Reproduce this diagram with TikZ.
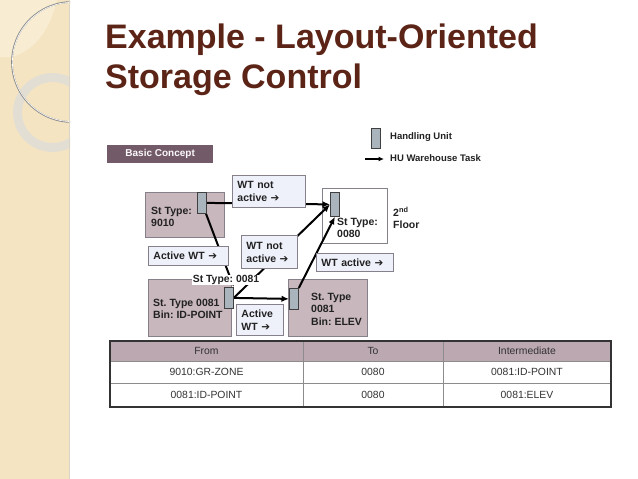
\documentclass[tikz,border=0pt]{standalone}
\usepackage{fontspec}
\setmainfont{Liberation Sans}
\newfontfamily\dejavu{DejaVu Sans}
\usetikzlibrary{arrows.meta}
\frenchspacing
\pgfdeclarelayer{back}
\pgfdeclarelayer{bg}
\pgfdeclarelayer{lines}
\pgfsetlayers{back,bg,lines,main}
\definecolor{titlec}{HTML}{5C2416}
\definecolor{stripc}{HTML}{F4E4C1}
\definecolor{patchc}{HTML}{F8ECD2}
\definecolor{ringc}{HTML}{E2DED6}
\definecolor{mauve}{HTML}{C8B7BC}
\definecolor{mauvedark}{HTML}{735A69}
\definecolor{headc}{HTML}{BBA8B1}
\definecolor{lblfill}{HTML}{EEF0FA}
\definecolor{edgec}{HTML}{85808A}
\definecolor{huc}{HTML}{A9B4BC}
\definecolor{txtc}{HTML}{222222}
\newcommand{\arr}{{\dejavu\mdseries ➔}}
\begin{document}
\begin{tikzpicture}[x=1pt,y=-1pt,
  mbox/.style={draw=edgec, fill=mauve, line width=0.9pt, inner sep=0},
  wbox/.style={draw=edgec, fill=white, line width=0.9pt, inner sep=0},
  lbl/.style={draw=edgec, fill=lblfill, line width=0.9pt, inner xsep=5pt, inner ysep=2pt,
    align=left, text=txtc, font=\bfseries\fontsize{10.5}{13}\selectfont},
  boxtxt/.style={inner sep=0, align=left, text=txtc, font=\bfseries\fontsize{10.5}{12.5}\selectfont},
  hu/.style={draw=black!75, fill=huc, line width=0.8pt, minimum width=9pt, minimum height=21pt, inner sep=0, anchor=north west},
  conn/.style={line width=2pt, black, -{Latex[length=7.5pt,width=6.5pt]}},
  cell/.style={inner sep=0, text=black!80, font=\fontsize{10.4}{12}\selectfont},
  legtxt/.style={inner sep=0, anchor=west, text=txtc, font=\bfseries\fontsize{9.5}{11}\selectfont}
]
\useasboundingbox (0,0) rectangle (638,479);
% background strip
\begin{pgfonlayer}{back}
\fill[white] (0,0) rectangle (638,479);
\fill[stripc] (0,0) rectangle (70,479);
\begin{scope}
\clip (0,0) rectangle (70,479);
\fill[patchc] (0,0) -- (57,0) .. controls (50,30) and (35,50) .. (12,57) -- (0,57) -- cycle;
\draw[ringc, line width=9pt, opacity=0.9] (52.5,112.5) circle[radius=35];
\draw[black!45, line width=1.6pt] (72,62) circle[radius=60];
\draw[white, line width=0.6pt] (72,62) circle[radius=59.6];
\end{scope}
\draw[stripc!80!black!60, line width=0.8pt] (69.6,0) -- (69.6,479);
\end{pgfonlayer}
% title
\node[inner sep=0, anchor=base west, text=titlec, font=\bfseries\fontsize{34}{40}\selectfont] (title1) at (105,48) {Example - Layout-Oriented};
\node[inner sep=0, anchor=base west, text=titlec, font=\bfseries\fontsize{34}{40}\selectfont] (title2) at (105,88) {Storage Control};
% basic concept
\node[fill=mauvedark, minimum width=106pt, minimum height=18pt, inner sep=0, anchor=north west,
  text=white!92!mauve, font=\bfseries\fontsize{10}{12}\selectfont] (basic) at (107,145) {Basic Concept};
% legend
\node[hu, minimum height=20pt] (leghu) at (371,128) {};
\node[legtxt] (leghutxt) at (390,137) {Handling Unit};
\coordinate (legA) at (365,159);
\coordinate (legB) at (384,159);
\draw[line width=1.4pt, -{Latex[length=5.5pt,width=5pt]}] (legA) -- (legB);
\node[legtxt] (legwttxt) at (390,158) {HU Warehouse Task};
% storage boxes (background)
\begin{pgfonlayer}{bg}
\node[mbox, minimum width=79pt, minimum height=45pt, anchor=north west] (b9010) at (145,192) {};
\node[wbox, minimum width=65pt, minimum height=55pt, anchor=north west] (b0080) at (322,188) {};
\node[mbox, minimum width=83pt, minimum height=57pt, anchor=north west] (b0081) at (148,279) {};
\node[mbox, minimum width=79pt, minimum height=57pt, anchor=north west] (belev) at (288,279) {};
\end{pgfonlayer}
\node[boxtxt, anchor=west] (t9010) at (151,217) {St Type:\\9010};
\node[boxtxt, anchor=west] (t0080) at (337,228) {St Type:\\0080};
\node[boxtxt, anchor=west] (t0081) at (153,309) {St. Type 0081\\Bin: ID-POINT};
\node[boxtxt, anchor=west] (telev) at (311,309) {St. Type\\0081\\Bin: ELEV};
\node[boxtxt, anchor=west] (floor) at (393,218) {2\textsuperscript{nd}\\Floor};
% handling units
\node[hu] (hu9010) at (197,192) {};
\node[hu, minimum height=24pt] (hu0080) at (330,192) {};
\node[hu] (hu0081) at (224,287) {};
\node[hu] (huelev) at (289,288) {};
% connectors
\begin{pgfonlayer}{lines}
\draw[conn] (hu9010.east) -- (hu0080.west);
\draw[conn] (hu9010.center) -- (hu0081.north east);
\draw[conn] (hu0081.east) -- (hu0080.west);
\draw[conn] (hu0081.east) -- (huelev.west);
\draw[conn] (huelev.north east) -- (hu0080.south);
\end{pgfonlayer}
% labels
\node[lbl, anchor=north west, minimum width=73pt, minimum height=32pt, text width=63pt] (l1) at (232,175) {WT not\\active \arr};
\node[lbl, anchor=north west, minimum width=80pt, minimum height=19pt, text width=70pt] (l2) at (148,246) {Active WT \arr};
\node[lbl, anchor=north west, minimum width=56pt, minimum height=33pt, text width=46pt] (l3) at (241,235) {WT not\\active \arr};
\node[lbl, anchor=north west, minimum width=77pt, minimum height=18pt, text width=67pt] (l4) at (316,253) {WT active \arr};
\node[lbl, anchor=north west, minimum width=47pt, minimum height=31pt, text width=37pt] (l5) at (236,304) {Active\\WT \arr};
\node[fill=white, inner xsep=1pt, inner ysep=0.5pt, text=txtc, font=\bfseries\fontsize{10.4}{12}\selectfont] (st0081) at (226,280) {St Type: 0081};
% table
\fill[headc] (110,341) rectangle (611,361);
\draw[black!45, line width=0.7pt] (110,361) -- (611,361) (110,383) -- (611,383) (303,341) -- (303,407) (443,341) -- (443,407);
\draw[black!80, line width=1.8pt] (110,341) rectangle (611,407);
\node[cell] (h1) at (206.5,351) {From};
\node[cell] (h2) at (373,351) {To};
\node[cell] (h3) at (527,351) {Intermediate};
\node[cell] (r11) at (206.5,372) {9010:GR-ZONE};
\node[cell] (r12) at (373,372) {0080};
\node[cell] (r13) at (527,372) {0081:ID-POINT};
\node[cell] (r21) at (206.5,395) {0081:ID-POINT};
\node[cell] (r22) at (373,395) {0080};
\node[cell] (r23) at (527,395) {0081:ELEV};
\end{tikzpicture}
\end{document}
